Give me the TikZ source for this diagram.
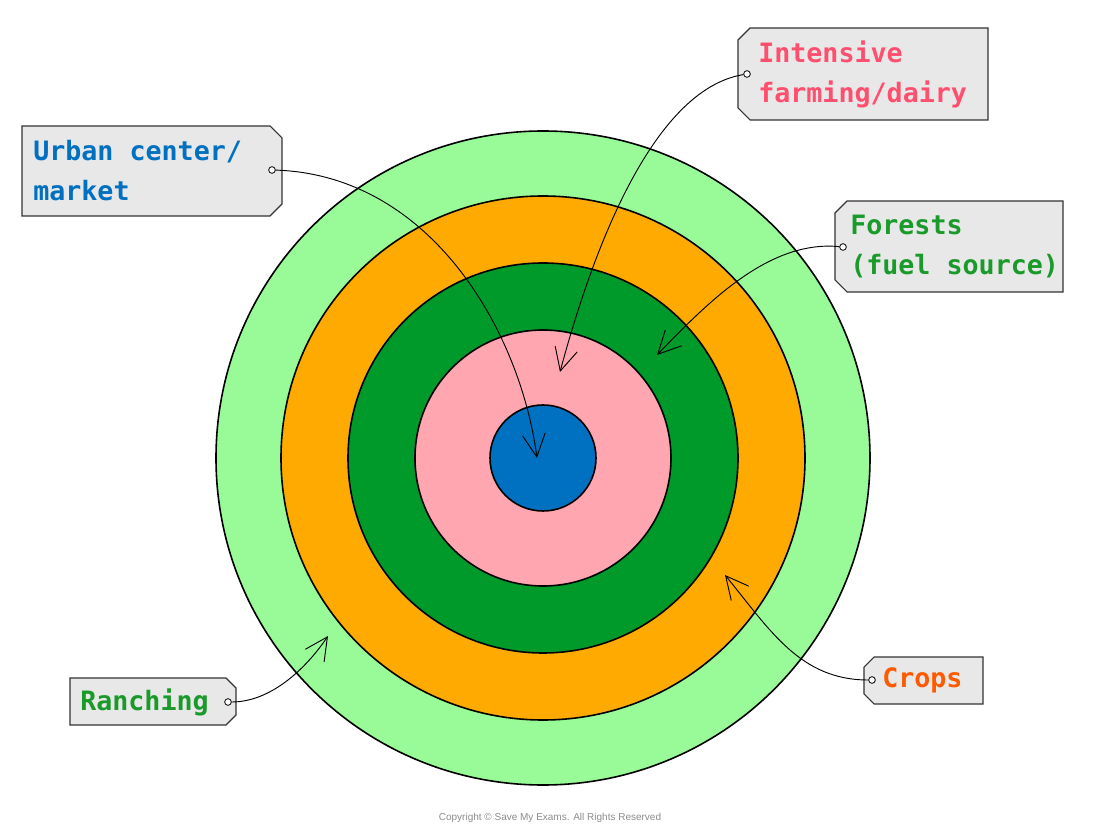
\documentclass[tikz,border=0pt]{standalone}
\usepackage{fontspec}
\setmainfont{DejaVu Sans Mono}
\usetikzlibrary{arrows.meta}
\definecolor{lg}{HTML}{98FB98}
\definecolor{org}{HTML}{FFAA00}
\definecolor{dg}{HTML}{009A2A}
\definecolor{pk}{HTML}{FFA6B0}
\definecolor{bl}{HTML}{0070C0}
\definecolor{tagbg}{HTML}{E8E8E8}
\definecolor{tred}{HTML}{FF4F6F}
\definecolor{tgreen}{HTML}{1A9A2A}
\definecolor{tor}{HTML}{FF5A00}
\begin{document}
\begin{tikzpicture}[x=0.75pt,y=-0.75pt,
  ring/.style={draw=black,line width=1.2pt},
  tagbox/.style={fill=tagbg,draw=black!80,line width=0.8pt},
  lbl/.style={anchor=west,font=\bfseries\fontsize{20}{30}\selectfont,inner sep=0},
  hole/.style={circle,draw=black,fill=white,inner sep=0,minimum size=5pt,line width=0.6pt},
  conn/.style={draw=black,line width=0.7pt,-{Straight Barb[length=17pt,width=17pt,line width=0.7pt]}}]
\useasboundingbox (0,0) rectangle (1100,837);
\fill[white] (0,0) rectangle (1100,837);
\coordinate (c) at (543,458);
\path[ring,fill=lg] (c) circle[radius=327];
\path[ring,fill=org] (c) circle[radius=262];
\path[ring,fill=dg] (c) circle[radius=195];
\path[ring,fill=pk] (c) circle[radius=128];
\path[ring,fill=bl] (c) circle[radius=53];
\coordinate (urbT) at (537,458);
\coordinate (intT) at (560,372);
\coordinate (forT) at (657,355);
\coordinate (croT) at (725,575);
\coordinate (ranT) at (328,636);
% tags
\path[tagbox] (22,126) -- (270,126) -- (282,138) -- (282,204) -- (270,216) -- (22,216) -- cycle;
\node[hole] (urbH) at (272,170) {};
\node[lbl,text=bl,align=left] (urbL) at (33,171) {Urban center/\\market};
\path[tagbox] (988,28) -- (750,28) -- (738,40) -- (738,108) -- (750,120) -- (988,120) -- cycle;
\node[hole] (intH) at (747,74) {};
\node[lbl,text=tred,align=left] (intL) at (758,74) {Intensive\\farming/dairy};
\path[tagbox] (1063,201) -- (847,201) -- (835,213) -- (835,280) -- (847,292) -- (1063,292) -- cycle;
\node[hole] (forH) at (843,247) {};
\node[lbl,text=tgreen,align=left] (forL) at (850,247) {Forests\\(fuel source)};
\path[tagbox] (983,657) -- (874,657) -- (864,667) -- (864,694) -- (874,704) -- (983,704) -- cycle;
\node[hole] (croH) at (872,680) {};
\node[lbl,text=tor] (croL) at (882,680) {Crops};
\path[tagbox] (70,678) -- (226,678) -- (236,688) -- (236,715) -- (226,725) -- (70,725) -- cycle;
\node[hole] (ranH) at (228,702) {};
\node[lbl,text=tgreen] (ranL) at (80,702) {Ranching};
% connectors
\draw[conn] (urbH) .. controls (430,175) and (520,330) .. (urbT);
\draw[conn] (intH) .. controls (650,90) and (590,260) .. (intT);
\draw[conn] (forH) .. controls (770,240) and (710,300) .. (forT);
\draw[conn] (croH) .. controls (800,680) and (770,630) .. (croT);
\draw[conn] (ranH) .. controls (270,702) and (305,670) .. (ranT);
\node[text=black!45,font=\fontspec{Liberation Sans}\fontsize{7.5}{9}\selectfont] (copy) at (550,818) {Copyright © Save My Exams. All Rights Reserved};
\end{tikzpicture}
\end{document}
